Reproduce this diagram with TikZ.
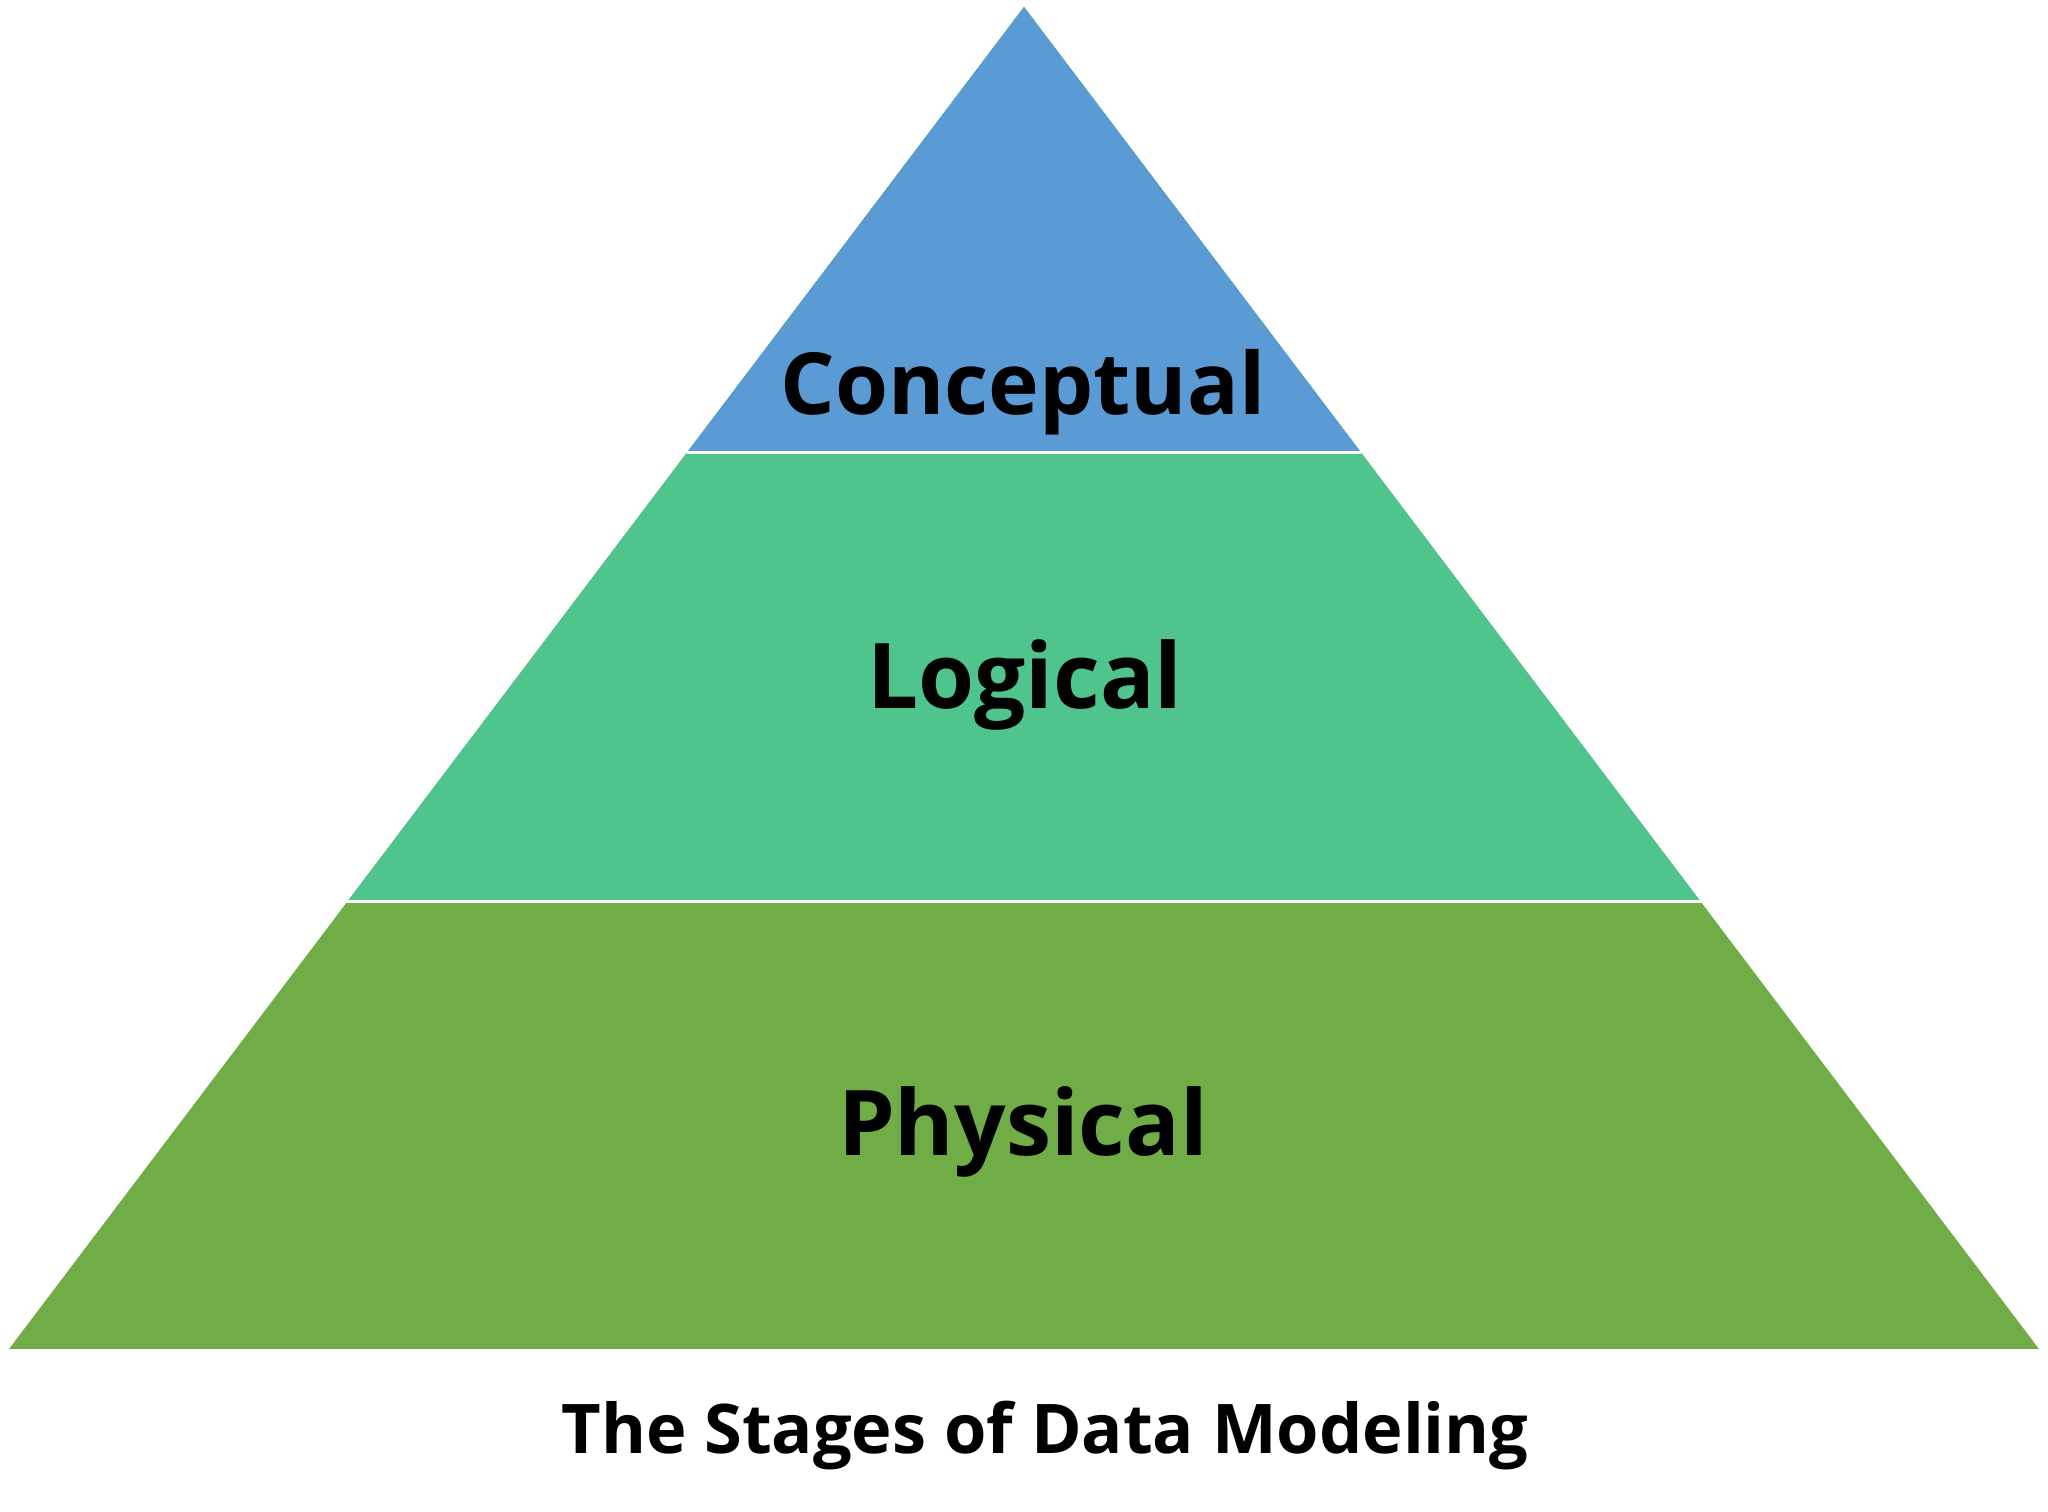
\documentclass[tikz,border=0pt]{standalone}
\usepackage{fontspec}
\setmainfont{Open Sans}
\usepackage{tikz}
\usetikzlibrary{calc}

\definecolor{toplayer}{HTML}{5B9BD5}
\definecolor{midlayer}{HTML}{4FC48C}
\definecolor{baselayer}{HTML}{70AD47}

\begin{document}
\begin{tikzpicture}[
    stage/.style={font=\fontsize{25.8}{25.8}\selectfont\bfseries, anchor=base},
    caption/.style={font=\fontsize{19.5}{19.5}\selectfont\bfseries, anchor=base}
  ]
    \useasboundingbox (0,0) rectangle (20.48,15.12);
    \coordinate (apex) at (10.24,15.05);
    \coordinate (bl) at (0.09,1.63);
    \coordinate (br) at (20.39,1.63);
    \coordinate (al) at ($(apex)!0.332!(bl)$);
    \coordinate (ar) at ($(apex)!0.332!(br)$);
    \coordinate (bl2) at ($(apex)!0.6666!(bl)$);
    \coordinate (br2) at ($(apex)!0.6666!(br)$);
    \fill[baselayer] (bl) -- (br) -- (apex) -- cycle;
    \fill[midlayer] (bl2) -- (br2) -- (apex) -- cycle;
    \fill[toplayer] (al) -- (ar) -- (apex) -- cycle;
    \draw[white, line width=0.03cm] (al) -- (ar);
    \draw[white, line width=0.03cm] (bl2) -- (br2);
    \node[stage, font=\fontsize{24.4}{24.4}\selectfont\bfseries] (conceptual) at (10.23,10.97) {Conceptual};
    \node[stage] (logical) at (10.25,8.03) {Logical};
    \node[stage] (physical) at (10.23,3.56) {Physical};
    \node[caption] (title) at (10.45,0.58) {The Stages of Data Modeling};
\end{tikzpicture}
\end{document}
